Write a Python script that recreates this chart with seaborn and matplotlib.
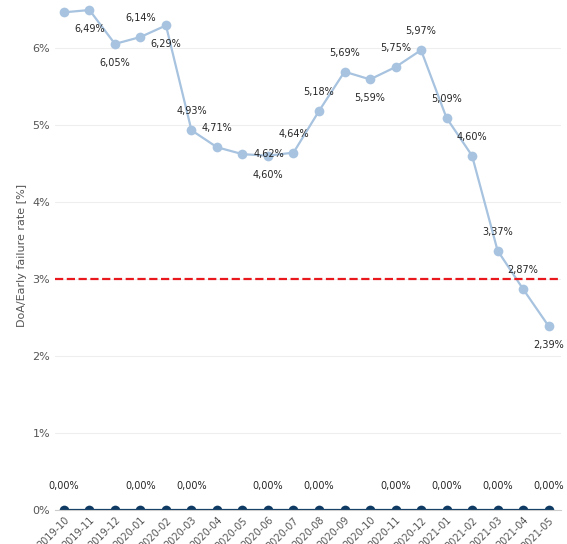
import matplotlib
matplotlib.use("Agg")
import matplotlib.pyplot as plt
import seaborn as sns
import pandas as pd

months = ["2019-10","2019-11","2019-12","2020-01","2020-02","2020-03","2020-04","2020-05","2020-06","2020-07",
          "2020-08","2020-09","2020-10","2020-11","2020-12","2021-01","2021-02","2021-03","2021-04","2021-05"]
rate = [6.46,6.49,6.05,6.14,6.29,4.93,4.71,4.62,4.60,4.64,5.18,5.69,5.59,5.75,5.97,5.09,4.60,3.37,2.87,2.39]
zero = [0.0]*20
label_side = [1,-1,-1,1,-1,1,1,0,-1,1,1,1,-1,1,1,1,1,1,1,-1]
zero_labeled = [0,3,5,8,10,13,15,17,19]
target = 3.0

sns.set_style("white")
plt.rcParams['font.family'] = ['DejaVu Sans']
fig = plt.figure(figsize=(5.67,5.44), dpi=100)
ax = fig.add_axes([0.097, 0.062, 0.893, 0.938])
x = list(range(len(months)))
sns.lineplot(x=x, y=rate, ax=ax, color="#a7c3df", marker="o", markersize=7, markeredgewidth=0, linewidth=1.6)
sns.lineplot(x=x, y=zero, ax=ax, color="#0e3a63", marker="o", markersize=7, markeredgewidth=0, linewidth=1.6)
ax.axhline(target, color="#e8181c", ls="--", lw=1.6)
fmt = lambda v: f"{v:.2f}%".replace(".", ",")
for i, (v, s) in enumerate(zip(rate, label_side)):
    if s == 0:
        ax.annotate(fmt(v), (i, v), xytext=(8, 0), textcoords="offset points", ha="left", va="center", fontsize=7)
    else:
        ax.annotate(fmt(v), (i, v), xytext=(0, 10*s), textcoords="offset points", ha="center",
                    va="bottom" if s > 0 else "top", fontsize=7)
for i in zero_labeled:
    ax.annotate(fmt(zero[i]), (i, 0), xytext=(0, 14), textcoords="offset points", ha="center", va="bottom", fontsize=7)
ax.set_xlim(-0.35, 19.5)
ax.set_ylim(0, 6.62)
ax.set_yticks([0,1,2,3,4,5,6])
ax.set_yticklabels([f"{t}%" for t in range(7)], fontsize=8, color="#555555")
ax.set_xticks(x)
ax.set_xticklabels(months, rotation=45, ha="right", rotation_mode="anchor", fontsize=7, color="#555555")
ax.set_ylabel("DoA/Early failure rate [%]", fontsize=8, color="#555555")
ax.grid(axis="y", color="#eeeeee", lw=0.8)
for sp in ["top","right","left"]:
    ax.spines[sp].set_visible(False)
ax.spines["bottom"].set_color("#cccccc")
ax.tick_params(length=0)
fig.savefig("out.png", dpi=100)
